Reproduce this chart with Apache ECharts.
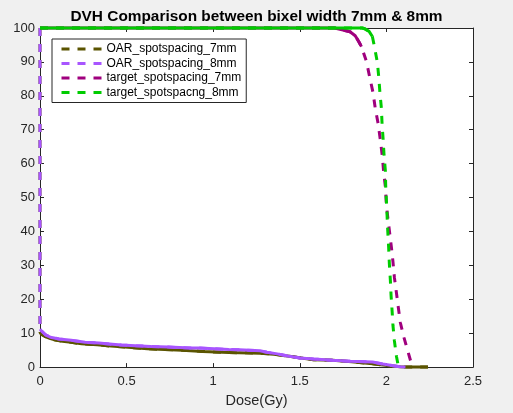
<!DOCTYPE html>
<html>
<head>
<meta charset="utf-8">
<script src="https://cdn.jsdelivr.net/npm/echarts@6/dist/echarts.min.js"></script>
<style>
  html, body { margin: 0; padding: 0; background: #f0f0f0; }
  #chart { width: 513px; height: 413px; }
</style>
</head>
<body>
<div id="chart"></div>
<script>
// DVH curves: dose (Gy) vs volume (%)
const oar7Dose = [0, 0, 0.01, 0.03, 0.06, 0.09, 0.13, 0.18, 0.24, 0.33, 0.41, 0.49, 0.62, 0.82, 0.94, 1.09, 1.27, 1.35, 1.44, 1.52, 1.58, 1.69, 1.80, 1.92, 1.98, 2.03, 2.08, 2.12, 2.24];
const oar7Vol  = [100, 10.3, 9.6, 9.0, 8.4, 8.0, 7.6, 7.3, 6.9, 6.6, 6.2, 5.9, 5.4, 5.0, 4.6, 4.3, 4.1, 3.8, 3.2, 2.6, 2.2, 2.0, 1.6, 1.0, 0.6, 0.3, 0.1, 0, 0];

const oar8Dose = [0, 0, 0.01, 0.03, 0.06, 0.11, 0.18, 0.26, 0.34, 0.40, 0.47, 0.55, 0.64, 0.74, 0.87, 0.92, 1.09, 1.15, 1.27, 1.31, 1.37, 1.43, 1.50, 1.58, 1.69, 1.79, 1.92, 1.98, 2.04, 2.08, 2.11];
const oar8Vol  = [100, 11.2, 10.6, 9.6, 8.8, 8.3, 7.9, 7.3, 7.1, 6.8, 6.5, 6.3, 6.1, 5.9, 5.6, 5.6, 5.2, 5.1, 4.8, 4.4, 3.9, 3.3, 2.7, 2.4, 2.0, 1.7, 1.5, 0.9, 0.4, 0.1, 0];

const tgt7Dose = [0, 1.70, 1.75, 1.79, 1.82, 1.84, 1.856, 1.885, 1.904, 1.923, 1.936, 1.952, 1.965, 1.977, 1.984, 1.994, 2.0, 2.009, 2.019, 2.029, 2.038, 2.046, 2.058, 2.069, 2.081, 2.102, 2.125, 2.15];
const tgt7Vol  = [100, 100, 99.4, 98.9, 97.7, 96, 94.5, 90.1, 85.4, 80.9, 76.2, 71.9, 67, 61.9, 57.6, 53.2, 47.8, 43.7, 39.5, 35.3, 31, 26.5, 21.9, 17.5, 13, 8.6, 4.5, 0];

const tgt8Dose = [0, 1.86, 1.875, 1.90, 1.919, 1.932, 1.948, 1.956, 1.963, 1.971, 1.975, 1.981, 1.986, 1.994, 1.996, 2.0, 2.004, 2.008, 2.013, 2.017, 2.023, 2.027, 2.033, 2.038, 2.046, 2.058, 2.07];
const tgt8Vol  = [100, 100, 99.8, 99, 97.5, 94.2, 89.8, 85.4, 80.7, 76.4, 71.7, 67.2, 62.9, 57.9, 53.4, 49, 44.6, 40, 35.3, 30.6, 25.5, 21.1, 16.5, 12.2, 7.8, 3.2, 0];

const seriesNames = ['OAR_spotspacing_7mm', 'OAR_spotspacing_8mm', 'target_spotspacing_7mm', 'target_spotspacng_8mm'];
const xTicks = [0, 0.5, 1, 1.5, 2, 2.5];
const yTicks = [0, 10, 20, 30, 40, 50, 60, 70, 80, 90, 100];

// styling
const colors = ['#5a5400', '#a855ff', '#a0007e', '#00cc00'];
// matlab draws dense point runs as if solid; only these index ranges look solid
const solidRanges = [[1, 999], [1, 999], [0, 6], [0, 4]];
const DASH = [8, 8];
const FONT = 'Liberation Sans, Arial, Helvetica, sans-serif';
const AX = '#262626';

function pairs(d, v) {
    return d.map((x, i) => [x, v[i]]);
}

const curves = [
    pairs(oar7Dose, oar7Vol),
    pairs(oar8Dose, oar8Vol),
    pairs(tgt7Dose, tgt7Vol),
    pairs(tgt8Dose, tgt8Vol)
];

const series = [];
curves.forEach((pts, i) => {
    series.push({
        name: seriesNames[i],
        type: 'line',
        data: pts,
        symbol: 'none',
        clip: false,
        animation: false,
        lineStyle: { color: colors[i], width: 3, type: DASH },
        itemStyle: { color: colors[i] }
    });
    const r = solidRanges[i];
    series.push({
        name: seriesNames[i] + '_solid',
        type: 'line',
        data: pts.slice(r[0], r[1] + 1),
        symbol: 'none',
        clip: false,
        animation: false,
        silent: true,
        lineStyle: { color: colors[i], width: 3, type: 'solid' },
        itemStyle: { color: colors[i] }
    });
});

const chart = echarts.init(document.getElementById('chart'), null, { renderer: 'canvas' });

const tickBase = {
    axisLine: { show: true, onZero: false, lineStyle: { color: AX, width: 1 } },
    axisTick: { show: true, inside: true, length: 4, lineStyle: { color: AX } },
    splitLine: { show: false }
};

chart.setOption({
    backgroundColor: '#f0f0f0',
    animation: false,
    title: {
        text: 'DVH Comparison between bixel width 7mm & 8mm',
        left: 'center',
        top: 4,
        textStyle: { fontFamily: FONT, fontSize: 15.4, fontWeight: 'bold', color: '#000' }
    },
    grid: {
        left: 40, right: 40, top: 28, bottom: 43,
        show: true, backgroundColor: '#fff', borderWidth: 0
    },
    legend: {
        data: seriesNames,
        orient: 'vertical',
        left: 52, top: 39,
        padding: [3, 5, 3, 8],
        itemWidth: 40,
        itemHeight: 14,
        itemGap: 0.5,
        backgroundColor: '#fff',
        borderColor: AX,
        borderWidth: 1,
        borderRadius: 0,
        selectedMode: false,
        itemStyle: { color: 'rgba(0,0,0,0)', borderWidth: 0 },
        lineStyle: { type: DASH, width: 3 },
        textStyle: { fontFamily: FONT, fontSize: 12, color: '#000', lineHeight: 14 }
    },
    xAxis: [
        Object.assign({
            type: 'value', min: 0, max: 2.5, interval: 0.5, position: 'bottom',
            name: 'Dose(Gy)', nameLocation: 'middle', nameGap: 24,
            nameTextStyle: { fontFamily: FONT, fontSize: 14.5, color: AX },
            axisLabel: { fontFamily: FONT, fontSize: 13, color: AX, margin: 8,
                formatter: v => String(xTicks.find(t => Math.abs(t - v) < 1e-9) ?? v) }
        }, tickBase),
        Object.assign({
            type: 'value', min: 0, max: 2.5, interval: 0.5, position: 'top',
            axisLabel: { show: false }
        }, tickBase)
    ],
    yAxis: [
        Object.assign({
            type: 'value', min: 0, max: 100, interval: 10, position: 'left',
            axisLabel: { fontFamily: FONT, fontSize: 13, color: AX, margin: 5,
                formatter: v => String(yTicks.find(t => t === v) ?? v) }
        }, tickBase),
        Object.assign({
            type: 'value', min: 0, max: 100, interval: 10, position: 'right',
            axisLabel: { show: false }
        }, tickBase)
    ],
    series: series
});
</script>
</body>
</html>
